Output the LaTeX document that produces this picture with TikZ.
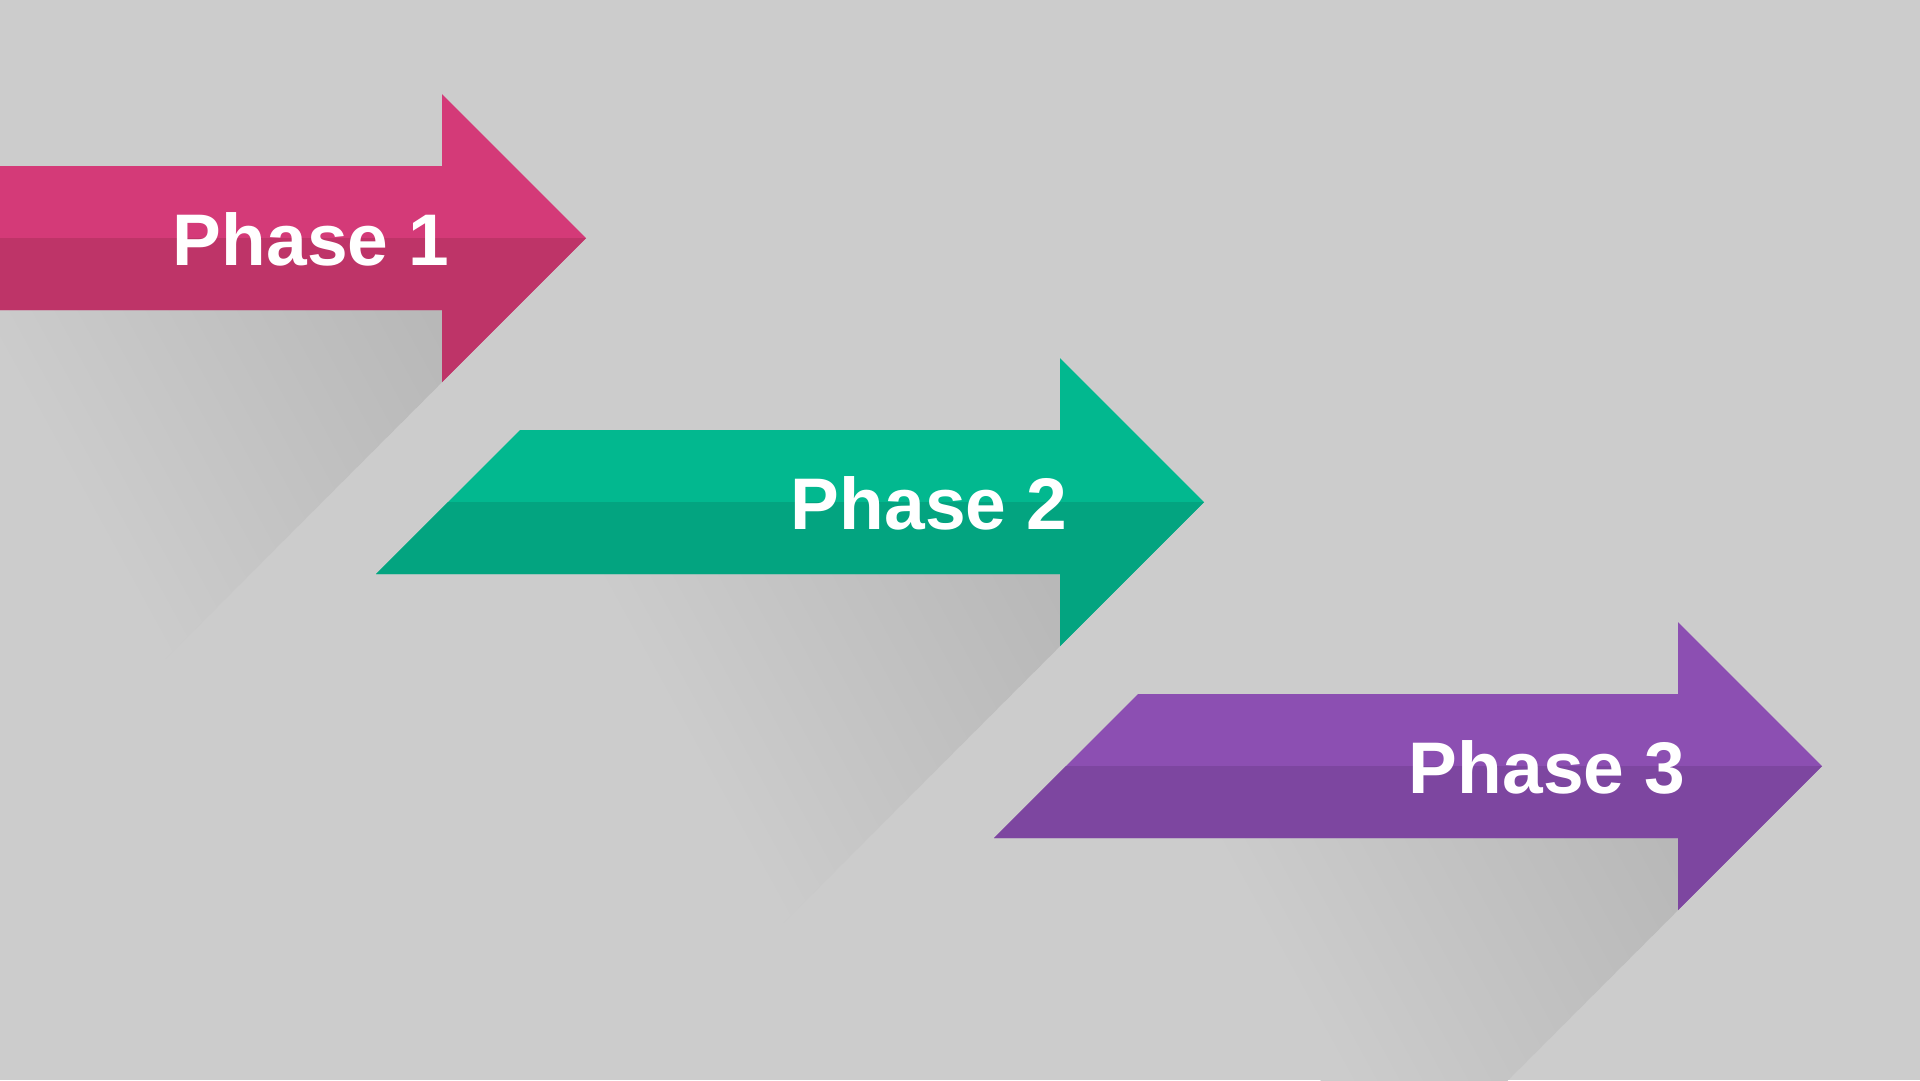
\documentclass[tikz,border=0pt]{standalone}
\usepackage{fontspec}
\setmainfont{Liberation Sans}
\usepackage{xcolor}
\usepackage{tikz}

\definecolor{bgcol}{HTML}{CCCCCC}
\definecolor{shadowcol}{HTML}{B8B8B8}
\definecolor{pinkup}{HTML}{D43A78}
\definecolor{pinklow}{HTML}{BE3468}
\definecolor{tealup}{HTML}{02B88F}
\definecolor{teallow}{HTML}{03A480}
\definecolor{purpup}{HTML}{8C4FB2}
\definecolor{purplow}{HTML}{7D46A0}

\tikzset{
	phase label/.style={text=white, inner sep=0pt, anchor=base east,
		font=\bfseries\fontsize{20.8}{25}\selectfont}
}

\begin{document}
\begin{tikzpicture}[x=0.1mm, y=-0.1mm]
			\fill[bgcol] (0,0) rectangle (1920,1080);
			\useasboundingbox (0,0) rectangle (1920,1080);
			% shadows, lowest arrow first
			\foreach \bx/\my in {1678/766, 1060/502, 442/238}{
				\begin{scope}
					\clip (\bx,\my+72) -- (\bx,\my+144) -- ++(-1200,1200) -- (\bx-1600,\my+72) -- cycle;
					\foreach \k in {0,...,20}{
						\pgfmathtruncatemacro\mix{100-5*\k}
						\fill[shadowcol!\mix!bgcol, shift={(\bx,\my+72)}, rotate=208.7] (20*\k,-1600) rectangle (20*\k+30,1600);
					}
				\end{scope}
			}
			% arrows
			\fill[pinkup] (-10,166) -- (442,166) -- (442,94) -- (586,238) -- (442,382) -- (442,310) -- (-10,310) -- cycle;
			\fill[pinklow] (-10,238) -- (586,238) -- (442,382) -- (442,310) -- (-10,310) -- cycle;
			\fill[tealup] (520,430) -- (1060,430) -- (1060,358) -- (1204,502) -- (1060,646) -- (1060,574) -- (376,574) -- cycle;
			\fill[teallow] (448,502) -- (1204,502) -- (1060,646) -- (1060,574) -- (376,574) -- cycle;
			\fill[purpup] (1138,694) -- (1678,694) -- (1678,622) -- (1822,766) -- (1678,910) -- (1678,838) -- (994,838) -- cycle;
			\fill[purplow] (1066,766) -- (1822,766) -- (1678,910) -- (1678,838) -- (994,838) -- cycle;
			% labels
			\node[phase label] (phase1) at (450,265) {Phase 1};
			\node[phase label] (phase2) at (1068,529) {Phase 2};
			\node[phase label] (phase3) at (1686,793) {Phase 3};
		\end{tikzpicture}
\end{document}
